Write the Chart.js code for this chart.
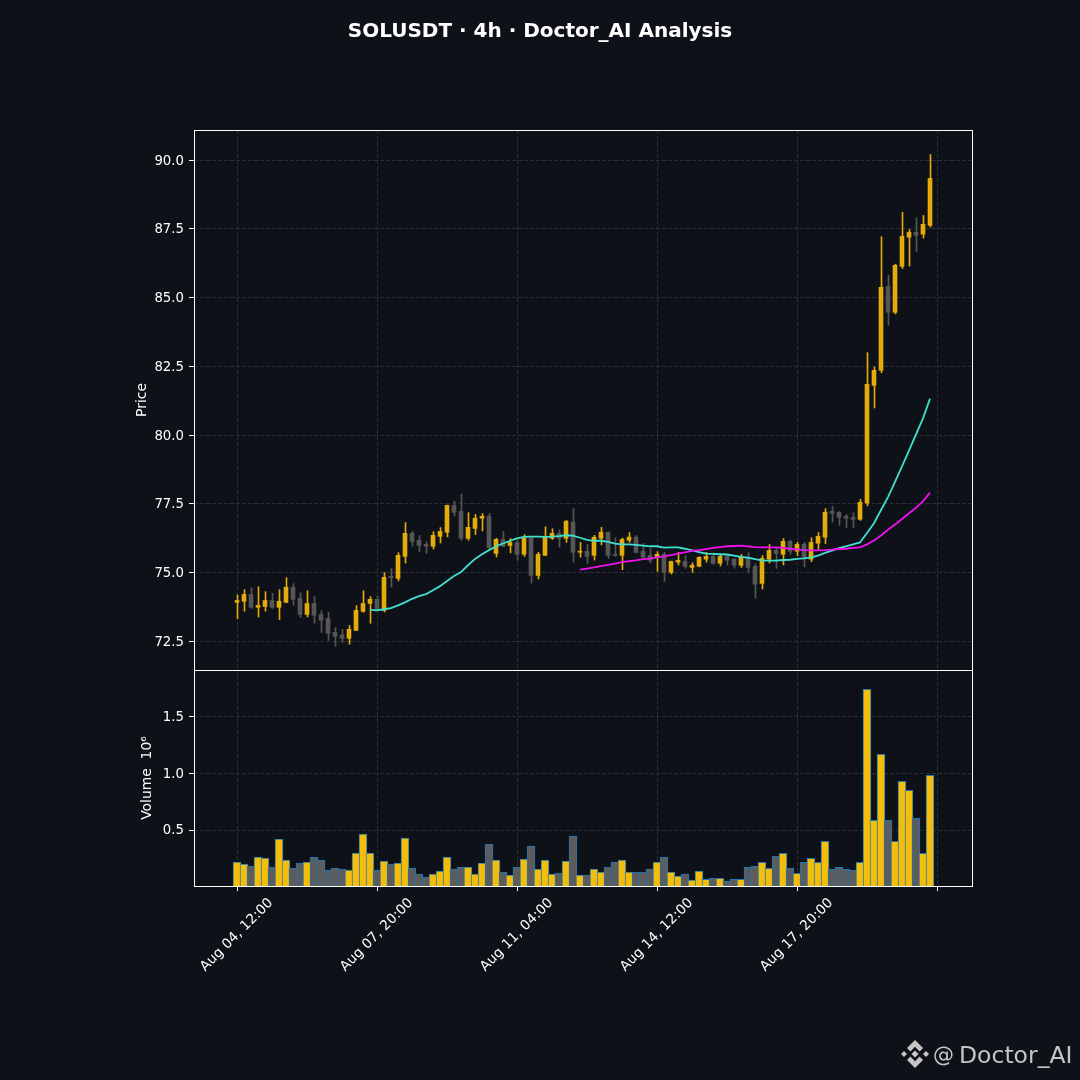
<!DOCTYPE html>
<html>
<head>
<meta charset="utf-8">
<title>SOLUSDT 4h</title>
<script src="https://cdn.jsdelivr.net/npm/chart.js@4/dist/chart.umd.min.js"></script>
<style>
  html, body { margin: 0; padding: 0; background: #0e1117; }
  #wrap { position: relative; width: 1080px; height: 1080px; overflow: hidden; }
  #Cnvs { display: block; }
  #mark { position: absolute; left: 901px; top: 1040px; height: 28px; width: 179px; color: #c6c6c6; font-family: "DejaVu Sans", sans-serif; }
  #mark svg { position: absolute; left: 0; top: 0; }
  #mark .at { position: absolute; left: 32px; top: 1px; font-size: 21px; line-height: 28px; }
  #mark .name { position: absolute; left: 58px; top: 1px; font-size: 23.5px; line-height: 28px; }
</style>
</head>
<body>
<div id="wrap">
  <canvas id="Cnvs" width="1080" height="1080"></canvas>
  <div id="mark">
    <svg width="28" height="28" viewBox="0 0 28 28" fill="#c6c6c6">
      <polygon points="14,0 22,8 18.6,11.4 14,6.8 9.4,11.4 6,8"/>
      <polygon points="14,28 22,20 18.6,16.6 14,21.2 9.4,16.6 6,20"/>
      <polygon points="0,14 3,11 6,14 3,17"/>
      <polygon points="22,14 25,11 28,14 25,17"/>
      <polygon points="14,10.4 17.6,14 14,17.6 10.4,14"/>
    </svg>
    <span class="at">@</span><span class="name">Doctor_AI</span>
  </div>
</div>
<script>
var titleText = 'SOLUSDT · 4h · Doctor_AI Analysis';
var xTickLabels = ['Aug 04, 12:00', 'Aug 07, 20:00', 'Aug 11, 04:00', 'Aug 14, 12:00', 'Aug 17, 20:00'];

var opens = [73.92,73.96,74.21,73.74,73.77,73.99,73.74,73.92,74.47,74.07,
  73.48,73.88,73.48,73.34,72.83,72.73,72.61,72.90,73.59,73.88,
  74.03,73.63,74.87,74.79,75.59,76.43,76.18,76.03,75.96,76.32,
  76.47,77.45,77.23,76.25,76.61,76.98,77.05,75.70,76.21,75.99,
  76.10,75.67,76.25,74.90,75.63,76.25,76.43,76.25,76.83,75.74,
  75.78,75.63,76.25,76.47,75.67,75.63,76.18,76.29,75.78,75.63,
  75.56,75.67,75.01,75.38,75.41,75.19,75.23,75.49,75.59,75.34,
  75.59,75.49,75.27,75.52,75.23,74.61,75.49,75.81,75.67,76.14,
  75.78,76.03,75.49,76.07,76.29,77.23,77.20,77.05,77.01,76.94,
  77.53,81.81,82.36,85.41,84.47,86.14,87.20,87.38,87.31,87.63];
var highs = [74.19,74.38,74.45,74.49,74.31,74.25,74.38,74.82,74.60,74.27,
  74.34,74.13,73.62,73.56,73.00,72.94,73.08,73.80,74.34,74.13,
  74.14,75.00,75.15,75.73,76.82,76.50,76.35,76.12,76.49,76.64,
  77.46,77.60,77.85,77.18,77.12,77.15,77.15,76.25,76.50,76.24,
  76.18,76.38,76.30,75.74,76.67,76.60,76.56,76.90,77.33,76.10,
  76.03,76.36,76.65,76.48,76.27,76.26,76.46,76.36,76.06,75.89,
  75.76,75.74,75.42,75.74,75.62,75.36,75.58,75.74,75.72,75.67,
  75.67,75.51,75.66,75.73,75.32,75.62,76.02,75.89,76.24,76.18,
  76.10,76.10,76.27,76.46,77.33,77.41,77.22,77.12,77.18,77.67,
  83.00,82.48,87.22,85.82,86.22,88.10,87.48,87.91,87.99,90.21];
var lows = [73.33,73.60,73.70,73.39,73.60,73.70,73.29,73.92,73.81,73.37,
  73.39,73.16,72.83,72.54,72.32,72.46,72.40,72.90,73.56,73.16,
  73.63,73.57,74.48,74.70,75.35,75.97,75.75,75.70,75.86,76.08,
  76.30,77.06,76.18,76.18,76.39,76.52,75.81,75.57,75.94,75.72,
  75.45,75.59,74.62,74.77,75.62,76.21,75.93,76.10,75.38,75.56,
  75.34,75.46,76.01,75.52,75.59,75.11,76.10,75.72,75.52,75.35,
  75.05,74.68,74.95,75.28,75.16,75.01,75.21,75.38,75.30,75.24,
  75.27,75.16,75.19,75.01,74.08,74.41,75.35,75.16,75.28,75.67,
  75.62,75.21,75.40,75.85,76.06,76.84,76.72,76.64,76.63,76.90,
  77.43,80.99,82.27,84.00,84.41,86.06,86.15,86.68,87.17,87.57];
var closes = [73.99,74.21,73.74,73.81,73.99,73.74,73.96,74.47,74.03,73.48,
  73.88,73.45,73.27,72.79,72.68,72.61,72.94,73.63,73.88,74.03,
  73.67,74.83,74.81,75.63,76.43,76.14,75.99,75.96,76.36,76.50,
  77.45,77.20,76.25,76.65,76.98,77.05,75.92,76.21,75.96,76.10,
  75.67,76.25,74.90,75.67,76.29,76.43,76.25,76.87,75.74,75.78,
  75.59,76.29,76.47,75.63,75.63,76.21,76.29,75.74,75.56,75.45,
  75.67,75.01,75.41,75.45,75.23,75.27,75.56,75.59,75.34,75.59,
  75.45,75.27,75.56,75.19,74.58,75.52,75.81,75.70,76.14,75.78,
  76.03,75.56,76.10,76.32,77.20,77.16,77.01,76.98,76.94,77.56,
  81.85,82.36,85.38,84.47,86.18,87.23,87.38,87.27,87.67,89.34];
// volume in millions, axis carries the 10^6
var volumes = [0.219,0.202,0.184,0.263,0.254,0.175,0.421,0.237,0.167,0.211,
  0.219,0.263,0.237,0.149,0.167,0.158,0.149,0.298,0.465,0.298,
  0.149,0.228,0.202,0.211,0.430,0.167,0.114,0.088,0.114,0.140,
  0.263,0.158,0.175,0.175,0.114,0.211,0.377,0.237,0.132,0.105,
  0.175,0.246,0.360,0.158,0.237,0.114,0.123,0.228,0.447,0.105,
  0.105,0.158,0.132,0.175,0.219,0.237,0.132,0.132,0.132,0.158,
  0.219,0.263,0.132,0.096,0.114,0.061,0.140,0.067,0.076,0.076,
  0.050,0.067,0.067,0.173,0.181,0.216,0.164,0.269,0.295,0.164,
  0.120,0.216,0.251,0.216,0.401,0.155,0.173,0.155,0.146,0.216,
  1.734,0.585,1.164,0.585,0.401,0.927,0.848,0.602,0.295,0.980];
// moving averages, first value sits at candle 19 and candle 49
var tealStart = 19;
var tealLine = [73.65,73.63,73.67,73.71,73.81,73.92,74.05,74.15,74.22,74.36,
  74.51,74.70,74.88,75.02,75.27,75.50,75.67,75.82,75.96,76.06,
  76.16,76.25,76.30,76.31,76.31,76.30,76.31,76.33,76.36,76.35,
  76.27,76.19,76.16,76.16,76.12,76.06,76.03,76.03,76.01,75.98,
  75.96,75.96,75.91,75.92,75.92,75.87,75.81,75.75,75.69,75.68,
  75.67,75.66,75.62,75.57,75.55,75.49,75.45,75.44,75.44,75.46,
  75.47,75.50,75.52,75.56,75.62,75.72,75.80,75.89,75.96,76.03,
  76.10,76.44,76.80,77.28,77.75,78.30,78.87,79.44,80.03,80.61,81.33];
var magentaStart = 49;
var magentaLine = [75.11,75.15,75.19,75.24,75.28,75.33,75.38,75.42,75.45,75.49,
  75.51,75.56,75.59,75.64,75.69,75.74,75.79,75.82,75.86,75.90,
  75.93,75.96,75.97,75.98,75.96,75.93,75.92,75.92,75.92,75.90,
  75.87,75.85,75.82,75.81,75.81,75.82,75.84,75.86,75.87,75.90,
  75.92,76.03,76.17,76.35,76.56,76.75,76.95,77.16,77.36,77.60,77.91];

var upBody = '#e3ab0c';
var downBody = '#565656';
var upVol = '#f5bd0b';
var downVol = '#5c5c5c';
var gridColor = '#2a2e36';
var fontName = '"DejaVu Sans", sans-serif';

// half a pixel (one candle = 7px) so the 1px wick lands on a single pixel column
var wickNudge = 0.5 / 7;

function isUp(i) { return closes[i] >= opens[i]; }
function candleColor(ctx) { return isUp(ctx.dataIndex) ? upBody : downBody; }
function volColor(ctx) { return isUp(ctx.dataIndex) ? upVol : downVol; }

var wickData = opens.map(function(o, i) { return { x: i + wickNudge, y: [lows[i], highs[i]] }; });
var bodyData = opens.map(function(o, i) { return { x: i, y: [o, closes[i]] }; });
var volData = volumes.map(function(v, i) { return { x: i, y: v }; });
var tealData = tealLine.map(function(v, i) { return { x: i + tealStart, y: v }; });
var magentaData = magentaLine.map(function(v, i) { return { x: i + magentaStart, y: v }; });

// outer frame and the line between the two panels
var framePlugin = {
  id: 'frame',
  afterDraw: function(chart) {
    var c = chart.ctx, a = chart.chartArea;
    var mid = chart.scales.y.bottom;
    c.save();
    c.strokeStyle = '#ffffff';
    c.lineWidth = 1;
    c.strokeRect(Math.round(a.left) + 0.5, Math.round(a.top) + 0.5, Math.round(a.right - a.left), Math.round(a.bottom - a.top));
    c.beginPath();
    c.moveTo(a.left, Math.round(mid) + 0.5);
    c.lineTo(a.right, Math.round(mid) + 0.5);
    c.stroke();
    c.restore();
  }
};

function panelGrid() {
  return { offset: false, color: gridColor, lineWidth: 1, tickColor: '#ffffff', tickLength: 5, tickBorderDash: [], tickWidth: 1 };
}

var chart = new Chart(document.getElementById('Cnvs'), {
  type: 'bar',
  data: {
    datasets: [
      { type: 'line', data: magentaData, yAxisID: 'y', borderColor: '#f010f0', borderWidth: 1.8, pointRadius: 0, tension: 0, order: 1 },
      { type: 'line', data: tealData, yAxisID: 'y', borderColor: '#40e0d0', borderWidth: 1.8, pointRadius: 0, tension: 0, order: 2 },
      { data: bodyData, yAxisID: 'y', barThickness: 4, grouped: false, backgroundColor: candleColor, borderWidth: 0, order: 3 },
      { data: wickData, yAxisID: 'y', barThickness: 1, grouped: false, backgroundColor: candleColor, borderWidth: 0, order: 4 },
      { data: volData, yAxisID: 'yVol', barThickness: 8, grouped: false, backgroundColor: volColor, borderColor: '#1f77b4', borderWidth: 1, borderSkipped: false, order: 5 }
    ]
  },
  options: {
    responsive: false,
    animation: false,
    devicePixelRatio: 1,
    layout: { padding: { left: 108, right: 108, top: 0, bottom: 0 } },
    plugins: {
      legend: { display: false },
      tooltip: { enabled: false },
      title: {
        display: true,
        text: titleText,
        color: '#ffffff',
        font: { family: fontName, size: 20, weight: 'bold' },
        padding: { top: 20, bottom: 86 }
      }
    },
    scales: {
      x: {
        type: 'linear',
        offset: false,
        min: -6.143,
        max: 105,
        grid: panelGrid(),
        border: { display: false, dash: [4, 2] },
        ticks: {
          stepSize: 20,
          includeBounds: false,
          autoSkip: false,
          minRotation: 45,
          maxRotation: 45,
          labelOffset: 34,
          padding: 4,
          color: '#ffffff',
          font: { family: fontName, size: 13.7 },
          callback: function(v) { return xTickLabels[v / 20] || ''; }
        },
        afterFit: function(s) { s.height = 194; s.paddingLeft = 0; s.paddingRight = 0; }
      },
      y: {
        type: 'linear',
        stack: 'panels',
        stackWeight: 540,
        weight: 2,
        position: 'left',
        min: 71.46,
        max: 91.10,
        grid: panelGrid(),
        border: { display: false, dash: [4, 2] },
        title: { display: true, text: 'Price', color: '#ffffff', font: { family: fontName, size: 13.9 }, padding: { top: 26, bottom: 0 } },
        ticks: {
          stepSize: 2.5,
          includeBounds: false,
          padding: 5,
          labelOffset: 1,
          color: '#ffffff',
          font: { family: fontName, size: 13.3 },
          callback: function(v) { return v.toFixed(1); }
        },
        afterFit: function(s) { s.width = 86; }
      },
      yVol: {
        type: 'linear',
        stack: 'panels',
        stackWeight: 216,
        weight: 1,
        position: 'left',
        min: 0.009,
        max: 1.904,
        grid: panelGrid(),
        border: { display: false, dash: [4, 2] },
        title: { display: true, text: 'Volume  10⁶', color: '#ffffff', font: { family: fontName, size: 13.9 }, padding: { top: 31, bottom: 0 } },
        ticks: {
          stepSize: 0.5,
          includeBounds: false,
          padding: 5,
          labelOffset: 1,
          color: '#ffffff',
          font: { family: fontName, size: 13.3 },
          callback: function(v) { return v.toFixed(1); }
        },
        afterFit: function(s) { s.width = 86; }
      }
    }
  },
  plugins: [framePlugin]
});
</script>
</body>
</html>
